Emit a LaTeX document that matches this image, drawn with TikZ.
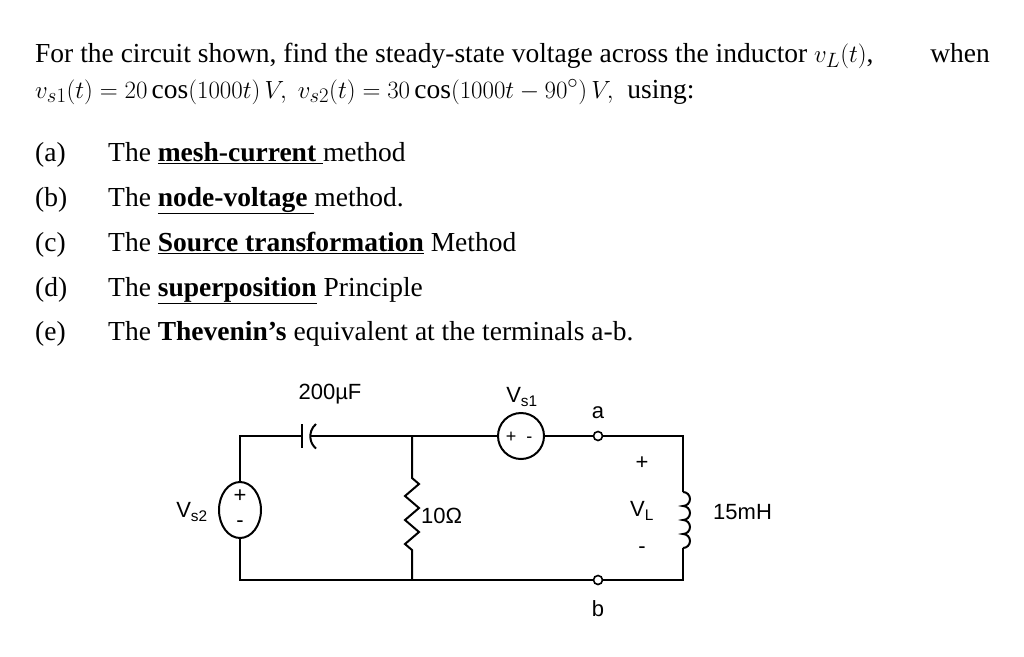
\documentclass[tikz,border=0pt]{standalone}
\usepackage{fontspec}
\setmainfont{Liberation Serif}
\setsansfont{Liberation Sans}
\usetikzlibrary{shapes.geometric}
\begin{document}
\begin{tikzpicture}[x=1pt,y=-1pt,
  txt/.style={anchor=base west,inner sep=0pt,font=\fontsize{27.5}{32}\selectfont},
  lbl/.style={inner sep=0pt,font=\sffamily\fontsize{22}{26}\selectfont},
  wire/.style={line width=2pt},
  term/.style={circle,draw,line width=1.6pt,fill=white,inner sep=0pt,minimum size=9pt}]
\useasboundingbox (0,0) rectangle (1024,656);
\node[txt] (l1) at (35,62) {For the circuit shown, find the steady-state voltage across the inductor $v_L(t)$,};
\node[txt,anchor=base east] (l1b) at (990,62) {when};
\node[txt] (l2) at (35,98) {$v_{s1}(t)=20\cos(1000t)\,V,\ v_{s2}(t)=30\cos(1000t-90^\circ)\,V,$ \ using:};
\foreach \l/\t/\y in {a/{The \underline{\textbf{mesh-current }}method}/161,
  b/{The \underline{\textbf{node-voltage }}method.}/206,
  c/{The \underline{\textbf{Source transformation}} Method}/251,
  d/{The \underline{\textbf{superposition}} Principle}/296,
  e/{The \textbf{Thevenin's} equivalent at the terminals a-b.}/340}{
  \node[txt] (i\l) at (35,\y) {(\l)};
  \node[txt] (t\l) at (108,\y) {\t};
}
% circuit
\coordinate (tl) at (240,436); \coordinate (bl) at (240,580);
\coordinate (c1) at (302,436); \coordinate (c2) at (310,436);
\coordinate (rt) at (412,436); \coordinate (rb) at (412,580);
\coordinate (tr) at (683,436); \coordinate (br) at (683,580);
\coordinate (lt) at (683,492); \coordinate (lb) at (683,548);
\node[draw,ellipse,line width=2pt,minimum width=42pt,minimum height=56pt,inner sep=0pt] (vs2) at (240,510) {};
\node[lbl] at (240,496) {+}; \node[lbl] at (240,524) {-};
\node[draw,circle,line width=2pt,minimum size=46pt,inner sep=0pt] (vs1) at (521,436) {};
\node[lbl,font=\sffamily\fontsize{18}{20}\selectfont] at (519,437) {+ \ -};
\node[term] (a) at (598,436) {};
\node[term] (b) at (598,580) {};
\draw[wire] (vs2.north) -- (tl) -- (c1);
\draw[wire] (c1) ++(0,-12) -- ++(0,24);
\draw[wire] (316,424) arc[start angle=-130,end angle=-230,radius=16];
\draw[wire] (c2) -- (rt) -- (vs1.west);
\draw[wire] (vs1.east) -- (a) -- (tr) -- (lt);
\draw[wire] (lt) \foreach \i in {0,1,2,3} {arc[start angle=-90,end angle=90,radius=7]};
\draw[wire] (lb) -- (br) -- (b) -- (rb) -- (bl) -- (vs2.south);
\draw[wire] (rt) -- (412,478) -- (419,484) -- (405,496) -- (419,508) -- (405,520) -- (419,532) -- (405,544) -- (412,550) -- (rb);
\node[lbl] (cl) at (330,394) {200\textmu F};
\node[lbl] (v1) at (522,397) {V\textsubscript{s1}};
\node[lbl] (v2) at (192,512) {V\textsubscript{s2}};
\node[lbl,anchor=west] (rl) at (421,516) {10Ω};
\node[lbl] (al) at (598,413) {a};
\node[lbl] (bl2) at (598,609) {b};
\node[lbl] at (642,463) {+};
\node[lbl] at (642,511) {V\textsubscript{L}};
\node[lbl] at (642,550) {-};
\node[lbl,anchor=west] (ll) at (713,512) {15mH};
\end{tikzpicture}
\end{document}
